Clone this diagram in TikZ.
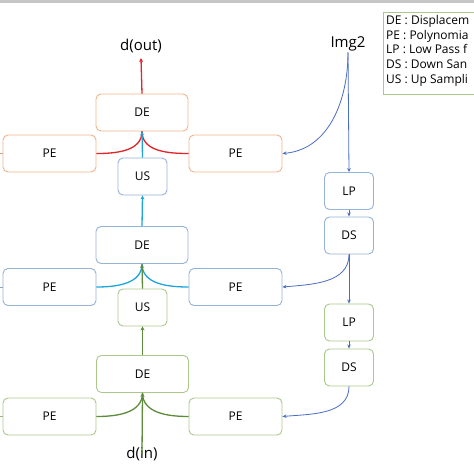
\documentclass[tikz,border=0pt]{standalone}
\usepackage{fontspec}
\setmainfont{Open Sans}
\usetikzlibrary{arrows.meta}
\definecolor{obd}{HTML}{F0B48C}
\definecolor{bbd}{HTML}{95B3D7}
\definecolor{gbd}{HTML}{AAC88C}
\definecolor{redc}{HTML}{E0242A}
\definecolor{cyanc}{HTML}{1EA6DA}
\definecolor{grnc}{HTML}{5E8A3C}
\definecolor{indc}{HTML}{4A6CC4}
\tikzset{
  blk/.style={draw, line width=0.9pt, rounded corners=5pt, fill=white, font=\fontsize{12}{14}\selectfont, inner sep=0pt},
  de/.style={blk, minimum width=92pt, minimum height=37pt},
  pe/.style={blk, minimum width=93pt, minimum height=37pt},
  sm/.style={blk, minimum width=49pt, minimum height=37pt},
  lbl/.style={font=\fontsize{15}{17}\selectfont, inner sep=1pt},
  arr/.style={line width=1.3pt, -{Stealth[length=4pt,width=4pt]}},
  thin/.style={line width=0.8pt, -{Stealth[length=4pt,width=3.5pt]}, indc},
  stub/.style={line width=0.8pt}
}
\begin{document}
\begin{tikzpicture}[x=1pt,y=-1pt]
\useasboundingbox (0,0) rectangle (474,474);
\clip (0,0) rectangle (474,474);
\fill[white] (0,0) rectangle (474,474);
\fill[gray!45] (0,0) rectangle (474,2.5);

% legend (its right side lies beyond the picture's edge)
\coordinate (lgA) at (474,12);
\coordinate (lgB) at (383,12);
\coordinate (lgC) at (383,94);
\coordinate (lgD) at (474,94);
\draw[gbd, line width=0.9pt] (lgA) -- (lgB) -- (lgC) -- (lgD);
\node[anchor=north west, align=left, inner sep=0pt,
      font=\fontsize{12}{14.8}\selectfont] (leg) at (386,15)
 {DE : Displacem\\PE : Polynomia\\LP : Low Pass f\\DS : Down San\\US : Up Sampli};

% top level (orange)
\node[de, draw=obd] (deT) at (142,112.5) {DE};
\node[pe, draw=obd] (peTL) at (49.5,153.5) {PE};
\node[pe, draw=obd] (peTR) at (235.5,153.5) {PE};
\node[sm, draw=bbd] (usT) at (142.5,176.5) {US};

% middle level (blue)
\node[de, draw=bbd] (deM) at (142,245) {DE};
\node[pe, draw=bbd] (peML) at (49.5,287) {PE};
\node[pe, draw=bbd] (peMR) at (235.5,287) {PE};
\node[sm, draw=gbd] (usM) at (142.5,307.5) {US};

% bottom level (green)
\node[de, draw=gbd] (deL) at (142.5,374) {DE};
\node[pe, draw=gbd] (peLL) at (49.5,416.5) {PE};
\node[pe, draw=gbd] (peLR) at (235.5,416.5) {PE};

% pyramid
\node[sm, draw=bbd] (lp1) at (349,191) {LP};
\node[sm, draw=bbd] (ds1) at (349,235.5) {DS};
\node[sm, draw=gbd] (lp2) at (349,322.5) {LP};
\node[sm, draw=gbd] (ds2) at (349,367.5) {DS};

% labels
\node[lbl] (dout) at (141,46) {d(out)};
\node[lbl] (img) at (348,44) {Img2};
\node[lbl] (din) at (142,454) {d(in)};

% left stubs
\coordinate (sT) at (0,153.5);
\coordinate (sM) at (0,287);
\coordinate (sL) at (0,416.5);
\draw[stub, obd!70!gray] (sT) -- (peTL.west);
\draw[stub, bbd!70!gray] (sM) -- (peML.west);
\draw[stub, gbd!70!gray] (sL) -- (peLL.west);

% top connectors
\draw[arr, redc] (deT.north) -- ([yshift=-4pt]dout.south);
\draw[line width=1.3pt, redc] (peTL.east) to[out=0,in=-90] (deT.south);
\draw[line width=1.3pt, redc] (peTR.west) to[out=180,in=-90] (deT.south);
\draw[arr, cyanc] (usT.north) -- (deT.south);
\draw[arr, cyanc] (deM.north) -- (usT.south);

% middle connectors
\draw[line width=1.3pt, cyanc] (peML.east) to[out=0,in=-90] (deM.south);
\draw[line width=1.3pt, cyanc] (peMR.west) to[out=180,in=-90] (deM.south);
\draw[arr, grnc] (usM.north) -- (deM.south);
\draw[arr, grnc] (deL.north) -- (usM.south);

% bottom connectors
\draw[line width=1.3pt, grnc] (peLL.east) to[out=0,in=-90] (deL.south);
\draw[line width=1.3pt, grnc] (peLR.west) to[out=180,in=-90] (deL.south);
\draw[arr, grnc] ([yshift=-8pt]din.north) -- (deL.south);

% pyramid connectors
\draw[thin] (img.south) -- (lp1.north);
\draw[thin] (img.south) to[out=-90,in=5] (peTR.east);
\draw[thin] (lp1.south) -- (ds1.north);
\draw[thin] (ds1.south) -- (lp2.north);
\draw[thin] (ds1.south) to[out=-90,in=5] (peMR.east);
\draw[thin] (lp2.south) -- (ds2.north);
\draw[thin] (ds2.south) to[out=-90,in=5] (peLR.east);
\end{tikzpicture}
\end{document}
